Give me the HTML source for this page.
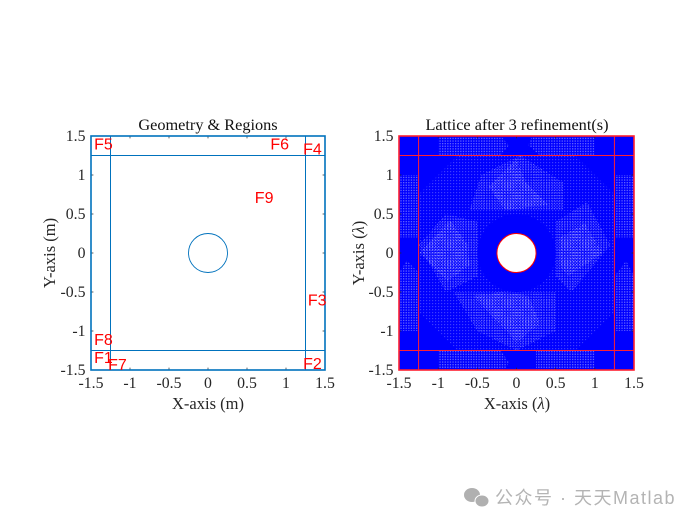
<!DOCTYPE html>
<html>
<head>
<meta charset="utf-8">
<style>
html,body{margin:0;padding:0;background:#fff;}
#fig{display:block;}
text{font-family:"Liberation Serif",serif;fill:#262626;}
.tick{font-size:15.8px;}
.ttl{font-size:16.3px;fill:#111;}
.lab{font-size:16.5px;}
.reg{font-family:"Liberation Sans",sans-serif;font-size:16px;fill:#f00;}
.wm{font-family:"Liberation Sans","Noto Sans CJK SC",sans-serif;font-size:18px;fill:#b4b4b4;letter-spacing:1.5px;}
</style>
</head>
<body>
<svg id="fig" width="700" height="525" viewBox="0 0 700 525" xmlns="http://www.w3.org/2000/svg">
<defs>
<pattern id="meshA" width="3" height="3" patternUnits="userSpaceOnUse"><rect x="0" y="0" width="1.2" height="1.2" fill="#3c3cff"/></pattern>
<pattern id="meshB" width="2.6" height="2.6" patternUnits="userSpaceOnUse"><rect x="0" y="0" width="1.3" height="1.3" fill="#6060ff"/></pattern>
<pattern id="meshC" width="3" height="3" patternUnits="userSpaceOnUse"><rect x="0" y="0" width="1.3" height="1.3" fill="#8080ff"/><rect x="1.5" y="1.5" width="1" height="1" fill="#5050ff"/></pattern>
</defs>
<g id="left"></g>
<g id="right"></g>
<g>
<ellipse cx="472" cy="495" rx="8" ry="7" fill="#b0b0b0"/>
<ellipse cx="482" cy="501" rx="7" ry="6" fill="#b0b0b0" stroke="#fff" stroke-width="1"/>
<text class="wm" x="495" y="504">公众号 · 天天Matlab</text>
</g>
</svg>
<script>
var tickValues = [-1.5, -1, -0.5, 0, 0.5, 1, 1.5];
var tickLabels = ['-1.5', '-1', '-0.5', '0', '0.5', '1', '1.5'];
var domainMin = -1.5;
var domainMax = 1.5;
var regionEdges = [-1.25, 1.25];
var holeRadius = 0.25;
var regionNames = ['F1','F2','F3','F4','F5','F6','F7','F8','F9'];
var regionLabelX = [-1.46, 1.22, 1.28, 1.22, -1.46, 0.8, -1.28, -1.46, 0.6];
var regionLabelY = [-1.41, -1.49, -0.67, 1.26, 1.33, 1.33, -1.5, -1.18, 0.64];
var meshFaint = [
  [[-1.25,0.75],[-0.75,1.25],[0.75,1.25],[1.25,0.75],[1.25,-0.75],[0.75,-1.25],[-0.75,-1.25],[-1.25,-0.75]]
];
var meshMedium = [
  [[-1,1.25],[-0.2,1.25],[-0.1,1.38],[-0.2,1.5],[-1,1.5]],
  [[0.2,1.5],[1,1.5],[1,1.25],[0.3,1.25],[0.15,1.38]],
  [[-1,-1.5],[-0.15,-1.5],[-0.1,-1.4],[-0.2,-1.25],[-1,-1.25]],
  [[0.25,-1.5],[1,-1.5],[1,-1.25],[0.25,-1.25]],
  [[-1.5,1],[-1.25,1],[-1.25,0.2],[-1.5,0.2]],
  [[-1.5,-1],[-1.25,-1],[-1.25,-0.25],[-1.4,-0.1],[-1.5,-0.25]],
  [[1.25,1],[1.5,1],[1.5,0.2],[1.25,0.2]],
  [[1.25,-1],[1.5,-1],[1.5,-0.3],[1.4,-0.1],[1.25,-0.3]],
  [[-0.9,0.5],[-1.25,0.1],[-0.9,-0.5],[-0.5,-0.3],[-0.5,0.4]],
  [[0.5,0.4],[0.9,0.65],[1.2,0.1],[0.7,-0.5],[0.5,-0.3]],
  [[-0.6,0.55],[-0.45,1],[0.05,1.25],[0.6,0.9],[0.6,0.55]],
  [[-0.8,-0.5],[-0.5,-1],[0,-1.25],[0.5,-1],[0.5,-0.5]]
];
var meshBright = [
  [[-0.35,0.85],[0,1.2],[0.12,0.9],[0.4,0.62],[-0.15,0.55]],
  [[-1.25,0],[-0.85,0.42],[-0.62,0.1],[-0.6,-0.15],[-0.88,-0.36]],
  [[0.55,0.2],[0.87,0.38],[1.1,0],[0.65,-0.3],[0.55,-0.15]],
  [[-0.55,-0.55],[0,-1.15],[0.3,-0.9],[0.15,-0.55],[-0.2,-0.5]]
];

var svgNS = 'http://www.w3.org/2000/svg';

function makeScale(a, b) {
  return function (v) { return a + (v - domainMin) / (domainMax - domainMin) * (b - a); };
}

function add(parent, tag, attrs, text) {
  var el = document.createElementNS(svgNS, tag);
  for (var k in attrs) el.setAttribute(k, attrs[k]);
  if (text !== undefined) el.textContent = text;
  parent.appendChild(el);
  return el;
}

function drawAxes(g, sx, sy) {
  tickValues.forEach(function (v, i) {
    var xt = add(g, 'text', {'class': 'tick', x: sx(v), y: sy(domainMin) + 18, 'text-anchor': 'middle'}, tickLabels[i]);
    
    
    var yt = add(g, 'text', {'class': 'tick', x: sx(domainMin) - 5.5, y: sy(v) + 5, 'text-anchor': 'end'}, tickLabels[i]);
    
    
    var d = 'M' + sx(v) + ' ' + sy(domainMin) + 'v-2.4M' + sx(v) + ' ' + sy(domainMax) + 'v2.4' +
            'M' + sx(domainMin) + ' ' + sy(v) + 'h2.4M' + sx(domainMax) + ' ' + sy(v) + 'h-2.4';
    var tk = add(g, 'path', {d: d, stroke: '#262626', 'stroke-width': 0.7, fill: 'none'});
    
    
  });
}

function drawRegions(g, sx, sy, color, width) {
  var box = add(g, 'rect', {x: sx(domainMin), y: sy(domainMax), width: sx(domainMax) - sx(domainMin), height: sy(domainMin) - sy(domainMax), fill: 'none', stroke: color, 'stroke-width': width + 0.6});
  
  
  regionEdges.forEach(function (e) {
    var v = add(g, 'line', {x1: sx(e), x2: sx(e), y1: sy(domainMin), y2: sy(domainMax), stroke: color, 'stroke-width': width});
    
    
    var h = add(g, 'line', {x1: sx(domainMin), x2: sx(domainMax), y1: sy(e), y2: sy(e), stroke: color, 'stroke-width': width});
    
    
  });
}

function drawPatches(g, sx, sy, patches, fill) {
  patches.forEach(function (p) {
    var pts = p.map(function (q) { return sx(q[0]) + ',' + sy(q[1]); }).join(' ');
    var el = add(g, 'polygon', {points: pts, fill: fill});
    
    
  });
}

/* left panel */
(function () {
  var g = document.getElementById('left');
  var sx = makeScale(91, 325);
  var sy = makeScale(370, 136);
  var color = '#0072BD';
  drawAxes(g, sx, sy);
  drawRegions(g, sx, sy, color, 1);
  var c = add(g, 'ellipse', {cx: sx(0), cy: sy(0), rx: sx(holeRadius) - sx(0), ry: sy(0) - sy(holeRadius), fill: 'none', stroke: color, 'stroke-width': 0.9});
  
  
  regionNames.forEach(function (n, i) {
    var t = add(g, 'text', {'class': 'reg', x: sx(regionLabelX[i]), y: sy(regionLabelY[i])}, n);
    
    
  });
  var title = add(g, 'text', {'class': 'ttl', x: 208, y: 130, 'text-anchor': 'middle'}, 'Geometry & Regions');
  
  
  var xl = add(g, 'text', {'class': 'lab', x: 208, y: 409, 'text-anchor': 'middle'}, 'X-axis (m)');
  
  
  var yl = add(g, 'text', {'class': 'lab', x: 0, y: 0, 'text-anchor': 'middle', transform: 'translate(55 253) rotate(-90)'}, 'Y-axis (m)');
  
  
})();

/* right panel */
(function () {
  var g = document.getElementById('right');
  var sx = makeScale(399, 634);
  var sy = makeScale(370, 136);
  var bg = add(g, 'rect', {x: sx(domainMin), y: sy(domainMax), width: sx(domainMax) - sx(domainMin), height: sy(domainMin) - sy(domainMax), fill: '#0000ff'});
  
  
  drawPatches(g, sx, sy, meshFaint, 'url(#meshA)');
  drawPatches(g, sx, sy, meshMedium, 'url(#meshB)');
  drawPatches(g, sx, sy, meshBright, 'url(#meshC)');
  var inner = add(g, 'ellipse', {cx: sx(0), cy: sy(0), rx: sx(0.5) - sx(0), ry: sy(0) - sy(0.5), fill: '#0000ff'});
  
  
  drawAxes(g, sx, sy);
  drawRegions(g, sx, sy, '#ff2030', 1);
  var c = add(g, 'ellipse', {cx: sx(0), cy: sy(0), rx: sx(holeRadius) - sx(0), ry: sy(0) - sy(holeRadius), fill: '#fff', stroke: '#f00', 'stroke-width': 1});
  
  
  var title = add(g, 'text', {'class': 'ttl', x: 517, y: 130, 'text-anchor': 'middle'}, 'Lattice after 3 refinement(s)');
  
  
  var xl = add(g, 'text', {'class': 'lab', x: 517, y: 409, 'text-anchor': 'middle'}, 'X-axis (');
  
  
  add(xl, 'tspan', {'font-style': 'italic'}, 'λ');
  add(xl, 'tspan', {}, ')');
  var yl = add(g, 'text', {'class': 'lab', x: 0, y: 0, 'text-anchor': 'middle', transform: 'translate(364 253) rotate(-90)'}, 'Y-axis (');
  
  
  add(yl, 'tspan', {'font-style': 'italic'}, 'λ');
  add(yl, 'tspan', {}, ')');
})();
</script>
</body>
</html>
